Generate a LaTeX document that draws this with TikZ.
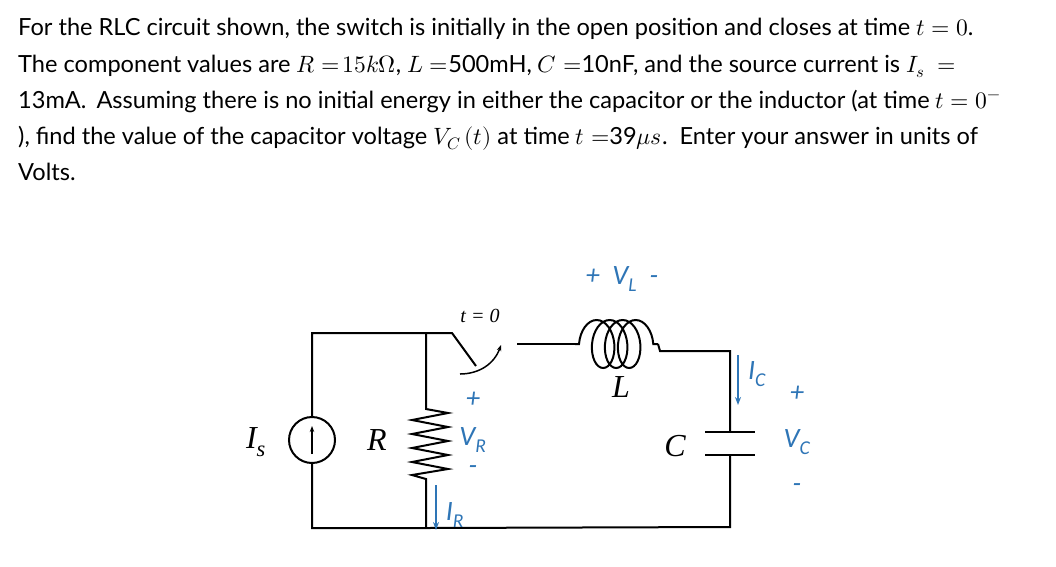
\documentclass[tikz,border=0pt]{standalone}
\usepackage{fontspec}
\setmainfont{Lato}
\newfontfamily\labf{Liberation Serif}
\newfontfamily\blf{Carlito}
\usepackage{unicode-math}
\setmathfont{Latin Modern Math}
\usetikzlibrary{decorations.pathmorphing,arrows.meta}
\definecolor{lblue}{RGB}{46,117,182}
\begin{document}
\begin{tikzpicture}[x=1pt,y=-1pt,
  txt/.style={anchor=base west,inner sep=0pt,font=\fontsize{23.6}{28}\selectfont},
  wire/.style={line width=2pt},
  blu/.style={text=lblue,font=\fontsize{28}{30}\selectfont\blf\itshape},
  lab/.style={font=\fontsize{32}{34}\selectfont\labf\itshape},
  cur/.style={draw=lblue,line width=2pt,-{Stealth[length=8pt]}}]
\useasboundingbox (0,0) rectangle (1056,566);
\node[txt] (l1) at (18,35) {For the RLC circuit shown, the switch is initially in the open position and closes at time $t=0$.};
\node[txt] (l2) at (18,72) {The component values are $R=\!15k\Omega$, $L=$500mH, $C=$10nF, and the source current is $I_s\;=$};
\node[txt] (l3) at (18,108) {13mA.\, Assuming there is no initial energy in either the capacitor or the inductor (at time $t=0^-$};
\node[txt] (l4) at (18,144) {), find the value of the capacitor voltage $V_C\,(t)$ at time $t=$39$\mu s$.\, Enter your answer in units of};
\node[txt] (l5) at (18,180) {Volts.};
\coordinate (tr) at (426,333);
\coordinate (br) at (426,528);
\coordinate (sw1) at (452,333);
\coordinate (sw2) at (476,366);
\coordinate (sw3) at (517,344);
\coordinate (lc1) at (575,344);
\coordinate (cr) at (730,351);
\coordinate (cb) at (730,527);
\node[circle,draw,line width=2pt,minimum size=46pt,inner sep=0pt] (src) at (312,440) {};
\draw[wire] (src.north) -- (312,333) -- (tr) -- (sw1) -- (sw2);
\draw[wire] (src.south) -- (312,528) -- (br) -- (cb) -- (730,455);
\draw[line width=1.6pt,-{Stealth[length=6pt]}] (312,454) -- (312,426);
% resistor
\draw[wire] (tr) -- (426,409) -- (448,413) -- (412,420) -- (448,427) -- (412,434) -- (448,441) -- (412,448) -- (448,455) -- (412,462) -- (448,469) -- (412,475) -- (426,479) -- (br);
% switch arc
\draw[line width=1.5pt,-{Stealth[length=6pt]}] (460,374) to[bend right=35] (501,345);
\draw[wire] (sw3) -- (lc1);
% inductor
\draw[wire,decorate,decoration={coil,aspect=0.6,segment length=13pt,amplitude=24pt,pre length=4pt,post length=2pt}] (lc1) -- (658,344);
\draw[wire] (658,344) -- (660,351) -- (cr) -- (730,432);
% capacitor
\draw[wire] (705,432) -- (755,432);
\draw[wire] (705,455) -- (755,455);
% labels
\node[lab] (Is) at (256,442) {I\textsubscript{s}};
\node[lab] (R) at (377,440) {R};
\node[lab] (C) at (675,446) {C};
\node[lab] (L) at (621,387) {L};
\node[font=\fontsize{20}{22}\selectfont\labf\itshape] (t0) at (480,316) {t = 0};
\node[blu] (VL) at (622,279) {+ \ V\textsubscript{L} \ -};
\node[blu] (VRp) at (473,400) {+};
\node[blu] (VR) at (473,440) {V\textsubscript{R}};
\node[blu] (VRm) at (473,470) {-};
\node[blu] (IR) at (455,515) {I\textsubscript{R}};
\node[blu] (IC) at (757,374) {I\textsubscript{C}};
\node[blu] (VCp) at (797,394) {+};
\node[blu] (VC) at (797,442) {V\textsubscript{C}};
\node[blu] (VCm) at (797,488) {-};
\draw[cur] (436,485) -- (436,530);
\draw[cur] (738,355) -- (738,405);
\end{tikzpicture}
\end{document}
